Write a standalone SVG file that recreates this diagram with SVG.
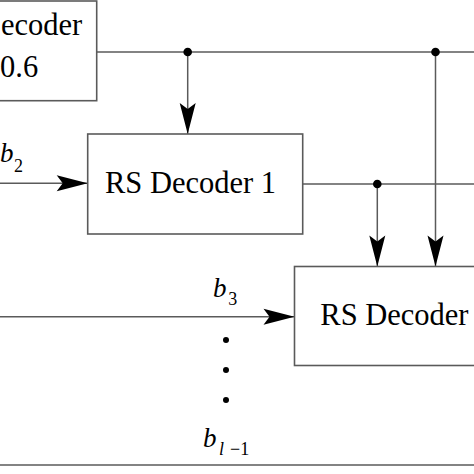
<svg xmlns="http://www.w3.org/2000/svg" width="474" height="474" viewBox="0 0 474 474">
<style>
.box{fill:#fff;stroke:#5a5a5a;stroke-width:1.6}
.ln{fill:none;stroke:#5a5a5a;stroke-width:1.5}
.arr{marker-end:url(#ah)}
.dot{fill:#000}
</style>
<defs>
<marker id="ah" markerUnits="userSpaceOnUse" markerWidth="34" markerHeight="18" refX="32" refY="8.5" orient="auto">
<path d="M1,0.5 L32,8.5 L1,16.5 L7,8.5 Z" fill="#000"/>
</marker>
</defs>
<rect width="474" height="474" fill="#fff"/>
<g id="connectors">
<line class="ln" x1="96.7" y1="52" x2="474" y2="52"/>
<line class="ln arr" x1="187.7" y1="52" x2="187.7" y2="134"/>
<line class="ln arr" x1="435.5" y1="52" x2="435.5" y2="266.5"/>
<line class="ln" x1="302.7" y1="184" x2="474" y2="184"/>
<line class="ln arr" x1="377.3" y1="184" x2="377.3" y2="266.5"/>
<line class="ln arr" x1="0" y1="183.3" x2="87.7" y2="183.3"/>
<line class="ln arr" x1="0" y1="316.7" x2="294.5" y2="316.7"/>
<line class="ln" x1="0" y1="465" x2="474" y2="465"/>
<circle class="dot" cx="187.7" cy="52" r="4.3"/>
<circle class="dot" cx="435.5" cy="52" r="4.3"/>
<circle class="dot" cx="377.3" cy="184" r="4.3"/>
</g>
<g font-family="Liberation Serif, Times New Roman, serif" fill="#000">
<g id="node-decoder0" font-size="30.5">
<rect class="box" x="-10" y="1" width="106.7" height="99.7"/>
<text x="1" y="35">ecoder</text>
<text x="0" y="77">0.6</text>
</g>
<g id="node-rs1" font-size="30.5">
<rect class="box" x="87.7" y="134" width="215" height="100"/>
<text x="105" y="193">RS Decoder 1</text>
</g>
<g id="node-rs2" font-size="30.5">
<rect class="box" x="294.5" y="266.5" width="200" height="99"/>
<text x="320.3" y="325.3">RS Decoder</text>
</g>
<g id="labels">
<text x="0" y="162" font-size="27" font-style="italic">b</text>
<text x="14" y="171.5" font-size="18">2</text>
<text x="213" y="297" font-size="27" font-style="italic">b</text>
<text x="228.3" y="304.5" font-size="18">3</text>
<text x="203" y="447.3" font-size="27" font-style="italic">b</text>
<text x="219" y="455" font-size="18"><tspan font-style="italic">l</tspan><tspan x="230">−1</tspan></text>
<circle class="dot" cx="226" cy="340" r="3"/>
<circle class="dot" cx="226" cy="370" r="3"/>
<circle class="dot" cx="226" cy="400" r="3"/>
</g>
</g>
</svg>
